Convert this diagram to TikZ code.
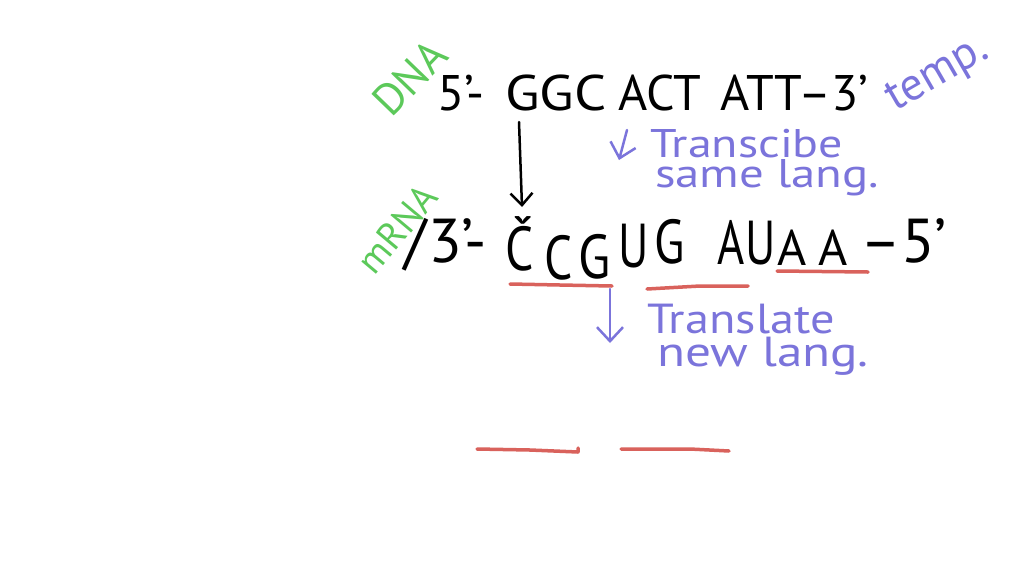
\documentclass[tikz,border=0pt]{standalone}
\usepackage{fontspec}
\usepackage{graphicx}
\setmainfont{PT Sans}
\usetikzlibrary{arrows.meta}
\definecolor{hgreen}{HTML}{5CC95A}
\definecolor{hpurple}{HTML}{7B74DB}
\definecolor{hred}{HTML}{D9625C}
\newcommand{\sx}[2]{\scalebox{#1}[1]{#2}}
\tikzset{
  seqA/.style={anchor=base west, inner sep=0pt, font=\fontsize{50}{56}\selectfont},
  seqB/.style={anchor=base west, inner sep=0pt, font=\fontsize{62}{68}\selectfont},
  note/.style={anchor=base west, inner sep=0pt, text=hpurple, font=\fontsize{40}{46}\selectfont},
  tag/.style={inner sep=0pt, text=hgreen, font=\fontsize{40}{46}\selectfont},
  ul/.style={draw=hred, line width=3.5pt, line cap=round, line join=round},
  blackarrow/.style={draw=black, line width=2.5pt, line cap=round, -{Straight Barb[length=12pt,width=22pt,line width=2.5pt]}},
  purplearrow/.style={draw=hpurple, line width=2.5pt, line cap=round, -{Straight Barb[length=14pt,width=26pt,line width=2.5pt]}}
}
\begin{document}
\begin{tikzpicture}[x=1pt,y=-1pt]
\useasboundingbox[fill=white] (0,0) rectangle (1024,576);
% row 1 (DNA)
\node[seqA] (p5) at (437,110) {5'-};
\node[seqA] (ggc) at (505,110) {\sx{1.13}{GGC}};
\node[seqA] (act) at (618,110) {ACT};
\node[seqA] (att) at (720,110) {ATT};
\node[seqA] (p3) at (798,110) {–3'};
\node[tag, rotate=46, font=\fontsize{44}{50}\selectfont] (dna) at (410,78) {DNA};
\node[note, rotate=30, anchor=center, font=\fontsize{46}{52}\selectfont] (temp) at (938,76) {temp.};
% row 2 (mRNA)
\node[seqB] (slash) at (404,262) {/};
\node[seqB] (q3) at (428,262) {3'-};
\node[seqB] (c1) at (505,270) {\sx{0.8}{Č}};
\node[seqB] (c2) at (544,279) {\sx{0.8}{C}};
\node[seqB] (g1) at (578,278) {\sx{0.85}{G}};
\node[seqB] (u1) at (618,267) {\sx{0.75}{U}};
\node[seqB] (g2) at (654,263) {\sx{0.8}{G}};
\node[seqB] (a1) at (717,264) {\sx{0.75}{A}};
\node[seqB] (u2) at (745,264) {\sx{0.75}{U}};
\node[seqB, font=\fontsize{50}{56}\selectfont] (a2) at (777,265) {A};
\node[seqB, font=\fontsize{50}{56}\selectfont] (a3) at (818,265) {A};
\node[seqB] (q5) at (860,262) {–5'};
\node[tag, rotate=50, font=\fontsize{38}{44}\selectfont] (mrna) at (397,229) {mRNA};
% notes
\node[note] (tr1) at (650,157) {\sx{1.2}{Transcibe}};
\node[note] (tr2) at (655,187) {\sx{1.22}{same lang.}};
\node[note, font=\fontsize{42}{48}\selectfont] (tl1) at (647,333) {\sx{1.15}{Translate}};
\node[note, font=\fontsize{42}{48}\selectfont] (tl2) at (657,366) {\sx{1.22}{new lang.}};
% arrows
\coordinate (k1) at (519,122);
\coordinate (k2) at (522,207);
\draw[blackarrow] (k1) -- (k2);
\coordinate (b1) at (627,130);
\coordinate (b2) at (619,160);
\draw[purplearrow] (b1) -- (b2);
\coordinate (d1) at (610,289);
\coordinate (d2) at (610,343);
\draw[purplearrow] (d1) -- (d2);
% underlines
\draw[ul] (510,284) -- (560,285) -- (612,286);
\draw[ul] (647,289) -- (700,286) -- (748,286);
\draw[ul] (777,271) -- (868,272);
\draw[ul] (477,449) -- (530,450) -- (578,452) -- (578,448);
\draw[ul] (621,449) -- (690,449) -- (729,451);
\end{tikzpicture}
\end{document}
